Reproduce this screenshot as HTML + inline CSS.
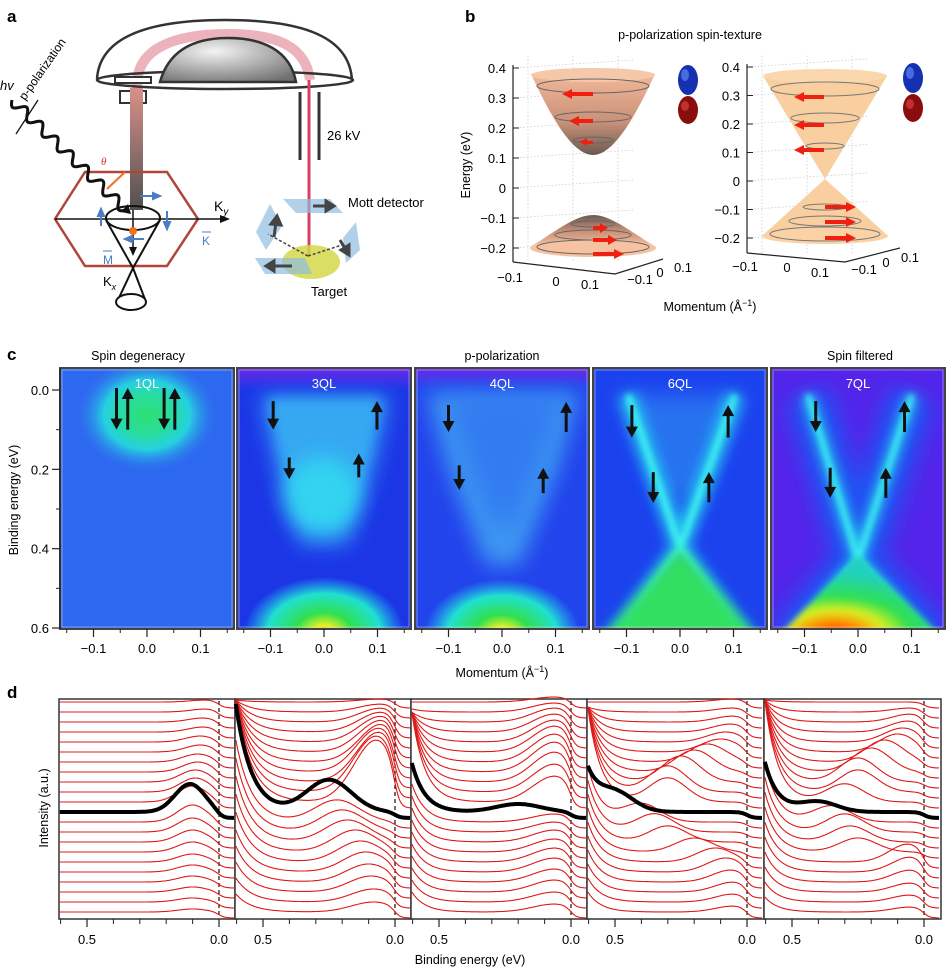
<!DOCTYPE html>
<html><head><meta charset="utf-8">
<style>
html,body{margin:0;padding:0;background:#fff;}
svg{display:block;font-family:"Liberation Sans",Arial,sans-serif;}
</style></head>
<body>
<svg id="fig" width="946" height="970" viewBox="0 0 946 970" xmlns="http://www.w3.org/2000/svg">
<defs>
  <filter id="b3" x="-50%" y="-50%" width="200%" height="200%"><feGaussianBlur stdDeviation="3"/></filter>
  <filter id="b6" x="-50%" y="-50%" width="200%" height="200%"><feGaussianBlur stdDeviation="6"/></filter>
  <filter id="b10" x="-50%" y="-50%" width="200%" height="200%"><feGaussianBlur stdDeviation="10"/></filter>
  <filter id="b16" x="-50%" y="-50%" width="200%" height="200%"><feGaussianBlur stdDeviation="16"/></filter>
  <radialGradient id="hemi" cx="0.4" cy="0.3" r="0.8"><stop offset="0" stop-color="#f4f4f4"/><stop offset="1" stop-color="#707070"/></radialGradient>
  <linearGradient id="col" x1="0" y1="0" x2="0" y2="1"><stop offset="0" stop-color="#d89088"/><stop offset="1" stop-color="#505050"/></linearGradient>
  <linearGradient id="para" x1="0" y1="0" x2="0" y2="1"><stop offset="0" stop-color="#f2b898"/><stop offset="0.6" stop-color="#c89078"/><stop offset="1" stop-color="#6a5a52"/></linearGradient>
  <linearGradient id="para2" x1="0" y1="0" x2="0" y2="1"><stop offset="0" stop-color="#6a5a52"/><stop offset="0.5" stop-color="#c89078"/><stop offset="1" stop-color="#f6c2a2"/></linearGradient>
  <radialGradient id="g1" cx="0.5" cy="0.5" r="0.5"><stop offset="0" stop-color="#2fe070"/><stop offset="0.35" stop-color="#28dca0"/><stop offset="0.6" stop-color="#25d0e0"/><stop offset="1" stop-color="#2f6cf0" stop-opacity="0"/></radialGradient>
  <radialGradient id="gVB" cx="0.5" cy="0.5" r="0.5"><stop offset="0" stop-color="#ffa000"/><stop offset="0.12" stop-color="#e8f020"/><stop offset="0.35" stop-color="#30e050"/><stop offset="0.7" stop-color="#20e0d0"/><stop offset="1" stop-color="#20c0f0" stop-opacity="0"/></radialGradient>
  <radialGradient id="gVB5" cx="0.35" cy="0.95" r="0.75"><stop offset="0" stop-color="#ff1800"/><stop offset="0.22" stop-color="#ff9000"/><stop offset="0.4" stop-color="#d8f020"/><stop offset="0.6" stop-color="#30e050"/><stop offset="1" stop-color="#20d0c0"/></radialGradient>
  <linearGradient id="topP" x1="0" y1="0" x2="0" y2="1"><stop offset="0" stop-color="#6a28e8"/><stop offset="1" stop-color="#6a28e8" stop-opacity="0"/></linearGradient>
  <clipPath id="c0"><rect x="60" y="368" width="174" height="261"/></clipPath>
  <clipPath id="c1"><rect x="237" y="368" width="174" height="261"/></clipPath>
  <clipPath id="c2"><rect x="415" y="368" width="174" height="261"/></clipPath>
  <clipPath id="c3"><rect x="593" y="368" width="174" height="261"/></clipPath>
  <clipPath id="c4"><rect x="771" y="368" width="173" height="261"/></clipPath>
</defs>

<!-- ================= PANEL A ================= -->
<g>
  <text x="7" y="22" font-size="17" font-weight="bold">a</text>
  <path d="M97,79 C100,32 160,20 225,20 C292,20 350,32 352,81" fill="#fff" stroke="#333" stroke-width="2.5"/>
  <path d="M137,88 C135,48 175,34 228,34 C280,34 306,48 310,80" fill="none" stroke="#e59aa6" stroke-width="10" opacity="0.75"/>
  <ellipse cx="225" cy="80" rx="128" ry="9" fill="none" stroke="#333" stroke-width="2.5"/>
  <path d="M160,82 C170,46 200,38 228,38 C262,38 290,50 296,82 Z" fill="url(#hemi)" stroke="#333" stroke-width="2.5"/>
  <rect x="115" y="77" width="36" height="6" fill="#fff" stroke="#333" stroke-width="2"/>
  <rect x="120" y="91" width="26" height="12" fill="none" stroke="#333" stroke-width="2"/>
  <rect x="130" y="88" width="13" height="122" fill="url(#col)"/>
  <line x1="300" y1="92" x2="300" y2="160" stroke="#333" stroke-width="3"/>
  <line x1="319" y1="92" x2="319" y2="160" stroke="#333" stroke-width="3"/>
  <line x1="309" y1="80" x2="309" y2="255" stroke="#d84060" stroke-width="3"/>
  <text x="327" y="140" font-size="13">26 kV</text>
  <polygon points="55,219 85,172 167,172 198,219 167,266 85,266" fill="none" stroke="#b0463a" stroke-width="2.5"/>
  <line x1="55" y1="219" x2="222" y2="219" stroke="#111" stroke-width="1.5"/>
  <polygon points="230,219 220,215 220,223" fill="#111"/>
  <text x="214" y="211" font-size="14">K<tspan font-size="10" dy="4" font-style="italic">y</tspan></text>
  <ellipse cx="133" cy="218" rx="27" ry="12" fill="none" stroke="#111" stroke-width="2"/>
  <line x1="106" y1="220" x2="133" y2="268" stroke="#111" stroke-width="2"/>
  <line x1="160" y1="220" x2="133" y2="268" stroke="#111" stroke-width="2"/>
  <line x1="133" y1="268" x2="117" y2="302" stroke="#111" stroke-width="2"/>
  <line x1="133" y1="268" x2="146" y2="302" stroke="#111" stroke-width="2"/>
  <ellipse cx="131" cy="302" rx="15" ry="8" fill="#fff" stroke="#111" stroke-width="2"/>
  <line x1="133" y1="210" x2="133" y2="250" stroke="#111" stroke-width="1.5"/>
  <polygon points="133,256 129,247 137,247" fill="#111"/>
  <circle cx="133" cy="231" r="4" fill="#f07020"/>
  <path id="wave" fill="none" stroke="#111" stroke-width="3"/>
  <polygon points="131,214 121,212 128,204" fill="#111"/>
  <line x1="16" y1="134" x2="38" y2="100" stroke="#111" stroke-width="1.3"/>
  <text x="0" y="90" font-size="13" font-style="italic">hv</text>
  <text x="0" y="0" font-size="12" transform="translate(25,101) rotate(-55)">p-polarization</text>
  <text x="101" y="165" font-size="11" fill="#d03030" font-style="italic" font-family="Liberation Serif,serif">θ</text>
  <path d="M107,189 L125,172" stroke="#f07020" stroke-width="2" fill="none"/>
  <g stroke="#4a7cc8" stroke-width="2" fill="#4a7cc8">
    <line x1="140" y1="196" x2="155" y2="196"/><polygon points="160,196 153,193 153,199"/>
    <line x1="101" y1="226" x2="101" y2="214"/><polygon points="101,209 98,216 104,216"/>
    <line x1="167" y1="211" x2="167" y2="224"/><polygon points="167,229 164,222 170,222"/>
    <line x1="144" y1="239" x2="130" y2="239"/><polygon points="125,239 132,236 132,242"/>
  </g>
  <text x="103" y="264" font-size="12" fill="#4a7cc8">M</text>
  <line x1="103" y1="251" x2="112" y2="251" stroke="#4a7cc8"/>
  <text x="202" y="245" font-size="12" fill="#4a7cc8">K</text>
  <line x1="202" y1="232" x2="211" y2="232" stroke="#4a7cc8"/>
  <text x="103" y="286" font-size="13">K<tspan font-size="9" dy="4" font-style="italic">x</tspan></text>
  <g>
    <polygon points="283,199 330,199 343,213 296,213" fill="#8fbde0" opacity="0.7"/>
    <polygon points="256,232 270,204 282,226 266,250" fill="#8fbde0" opacity="0.7"/>
    <polygon points="343,238 356,222 360,250 346,263" fill="#8fbde0" opacity="0.7"/>
    <ellipse cx="311" cy="262" rx="29" ry="17" fill="#d4d84a" opacity="0.85"/>
    <polygon points="255,258 305,258 312,274 265,274" fill="#8fbde0" opacity="0.7"/>
    <line x1="308" y1="256" x2="268" y2="234" stroke="#444" stroke-width="1.5" stroke-dasharray="3,2"/>
    <line x1="308" y1="256" x2="342" y2="245" stroke="#444" stroke-width="1.5" stroke-dasharray="3,2"/>
    <g stroke="#444" stroke-width="3" fill="#444">
      <line x1="313" y1="206" x2="328" y2="206"/><polygon points="334,206 326,201 326,211"/>
      <line x1="274" y1="237" x2="276" y2="222"/><polygon points="277,216 271,224 281,225"/>
      <line x1="340" y1="240" x2="346" y2="250"/><polygon points="349,255 341,250 349,245"/>
      <line x1="292" y1="266" x2="272" y2="266"/><polygon points="266,266 274,261 274,271"/>
    </g>
  </g>
  <text x="348" y="207" font-size="13">Mott detector</text>
  <text x="311" y="296" font-size="13">Target</text>
</g>

<!-- ================= PANEL B ================= -->
<g>
  <text x="465" y="22" font-size="17" font-weight="bold">b</text>
  <text x="690" y="39" font-size="12.5" text-anchor="middle">p-polarization spin-texture</text>
  <text transform="translate(470,165) rotate(-90)" font-size="12.5" text-anchor="middle">Energy (eV)</text>
  <g id="bgrid" stroke="#ccc" stroke-width="0.8" stroke-dasharray="1.5,2" fill="none"></g>
  <path d="M531,74 C550,115 572,155 593,155 C614,155 636,115 655,74 Z" fill="url(#para)"/>
  <ellipse cx="593" cy="75" rx="62" ry="7" fill="#f6c8aa"/>
  <path d="M530,247 C555,232 575,215 593,215 C611,215 631,232 656,247 Z" fill="url(#para2)"/>
  <ellipse cx="593" cy="248" rx="63" ry="9" fill="#f6c2a2"/>
  <g fill="none" stroke="#666" stroke-width="1">
    <ellipse cx="593" cy="86" rx="56" ry="7"/><ellipse cx="593" cy="117" rx="38" ry="5"/><ellipse cx="593" cy="140" rx="20" ry="3"/>
    <ellipse cx="593" cy="224" rx="22" ry="3"/><ellipse cx="593" cy="235" rx="38" ry="5"/><ellipse cx="593" cy="247" rx="56" ry="7"/>
  </g>
  <g fill="#f02010">
    <rect x="570" y="92" width="23" height="4"/><polygon points="562,94 572,89 572,99"/>
    <rect x="577" y="119" width="16" height="4"/><polygon points="569,121 579,116 579,126"/>
    <rect x="585" y="141" width="8" height="3"/><polygon points="579,142 587,138 587,146"/>
    <rect x="593" y="226" width="8" height="4"/><polygon points="608,228 600,223 600,233"/>
    <rect x="593" y="238" width="16" height="4"/><polygon points="617,240 608,235 608,245"/>
    <rect x="593" y="252" width="22" height="4"/><polygon points="624,254 614,249 614,259"/>
  </g>
  <path d="M763,76 L825,179 L887,76 Z" fill="#f9cfa0"/>
  <ellipse cx="825" cy="76" rx="62" ry="7" fill="#fbd7ae"/>
  <path d="M763,235 L825,179 L887,235 Z" fill="#f9cfa0"/>
  <ellipse cx="825" cy="236" rx="63" ry="8" fill="#fbd2a6"/>
  <g fill="none" stroke="#777" stroke-width="1">
    <ellipse cx="825" cy="89" rx="54" ry="7"/><ellipse cx="825" cy="118" rx="34" ry="5"/><ellipse cx="825" cy="146" rx="19" ry="3"/>
    <ellipse cx="825" cy="207" rx="22" ry="3"/><ellipse cx="825" cy="221" rx="36" ry="5"/><ellipse cx="825" cy="234" rx="55" ry="7"/>
  </g>
  <g fill="#f02010">
    <rect x="802" y="95" width="22" height="4"/><polygon points="794,97 804,92 804,102"/>
    <rect x="802" y="123" width="22" height="4"/><polygon points="794,125 804,120 804,130"/>
    <rect x="802" y="148" width="22" height="4"/><polygon points="794,150 804,145 804,155"/>
    <rect x="825" y="205" width="22" height="4"/><polygon points="856,207 846,202 846,212"/>
    <rect x="825" y="220" width="22" height="4"/><polygon points="856,222 846,217 846,227"/>
    <rect x="825" y="236" width="22" height="4"/><polygon points="856,238 846,233 846,243"/>
  </g>
  <g>
    <ellipse cx="688" cy="80" rx="10" ry="15" fill="#1530b0"/><ellipse cx="685" cy="75" rx="4" ry="6" fill="#4a6ae0"/>
    <ellipse cx="688" cy="110" rx="10" ry="14" fill="#8a0d0d"/><ellipse cx="685" cy="106" rx="4" ry="5" fill="#c03030"/>
  </g>
  <g>
    <ellipse cx="913" cy="78" rx="10" ry="15" fill="#1530b0"/><ellipse cx="910" cy="73" rx="4" ry="6" fill="#4a6ae0"/>
    <ellipse cx="913" cy="108" rx="10" ry="14" fill="#8a0d0d"/><ellipse cx="910" cy="104" rx="4" ry="5" fill="#c03030"/>
  </g>
  <g id="baxes"></g>
  <text x="710" y="311" font-size="12.5" text-anchor="middle">Momentum (Å<tspan font-size="9" dy="-5">−1</tspan><tspan dy="5">)</tspan></text>
</g>

<!-- ================= PANEL C ================= -->
<g>
  <text x="7" y="360" font-size="17" font-weight="bold">c</text>
  <text x="138" y="360" font-size="12.5" text-anchor="middle">Spin degeneracy</text>
  <text x="502" y="360" font-size="12.5" text-anchor="middle">p-polarization</text>
  <text x="860" y="360" font-size="12.5" text-anchor="middle">Spin filtered</text>

  <g clip-path="url(#c0)">
    <rect x="60" y="368" width="174" height="261" fill="#2d68f0"/>
    <ellipse cx="147" cy="415" rx="72" ry="58" fill="url(#g1)"/>
  </g>
  <g clip-path="url(#c1)">
    <rect x="237" y="368" width="174" height="261" fill="#1c36e6"/>
    <rect x="237" y="368" width="174" height="22" fill="url(#topP)"/>
    <path d="M260,396 L390,396 L374,470 L348,545 L300,545 L276,470 Z" fill="#2f8cf2" filter="url(#b10)"/>
    <path d="M268,398 L382,398 L368,462 L342,525 L306,525 L282,462 Z" fill="#38aef2" filter="url(#b6)" opacity="0.85"/>
    <ellipse cx="322" cy="495" rx="38" ry="38" fill="#30dcf0" filter="url(#b10)" opacity="0.85"/>
    <ellipse cx="324" cy="632" rx="80" ry="55" fill="url(#gVB)"/>
  </g>
  <g clip-path="url(#c2)">
    <rect x="415" y="368" width="174" height="261" fill="#2244ec"/>
    <rect x="415" y="368" width="174" height="20" fill="url(#topP)"/>
    <path d="M426,392 L580,392 L558,470 L520,565 L486,565 L448,470 Z" fill="#3c96f2" filter="url(#b10)"/>
    <path d="M448,398 L562,398 L542,460 L514,525 L494,525 L466,460 Z" fill="#2c6cf0" filter="url(#b10)" opacity="0.6"/>
    <ellipse cx="502" cy="634" rx="78" ry="55" fill="url(#gVB)"/>
  </g>
  <g clip-path="url(#c3)">
    <rect x="593" y="368" width="174" height="261" fill="#1c42ee"/>
    <path d="M618,395 L744,395 L700,500 L662,500 Z" fill="#2b7ef0" filter="url(#b10)" opacity="0.8"/>
    <path d="M628,395 L680,548 L745,640 M735,395 L680,548 L615,640" stroke="#20c0f0" stroke-width="18" fill="none" filter="url(#b6)"/>
    <path d="M628,395 L680,548 L745,640 M735,395 L680,548 L615,640" stroke="#40f0f0" stroke-width="6" fill="none" filter="url(#b3)"/>
    <path d="M680,548 L760,640 L600,640 Z" fill="#30e060" filter="url(#b6)"/>
  </g>
  <g clip-path="url(#c4)">
    <rect x="771" y="368" width="173" height="261" fill="#5424ea"/>
    <path d="M808,395 L858,560 L930,640 M912,395 L858,560 L790,640" stroke="#2050f2" stroke-width="48" fill="none" filter="url(#b10)" stroke-linejoin="round"/>
    <path d="M808,395 L912,395" stroke="#2050f2" stroke-width="30" filter="url(#b10)"/>
    <path d="M808,395 L858,560 L930,640 M912,395 L858,560 L790,640" stroke="#20c8f0" stroke-width="12" fill="none" filter="url(#b6)"/>
    <path d="M808,395 L858,560 L930,640 M912,395 L858,560 L790,640" stroke="#40f0f0" stroke-width="5" fill="none" filter="url(#b3)"/>
    <path d="M858,555 L945,640 L775,640 Z" fill="url(#gVB5)" filter="url(#b3)"/>
  </g>
  <g id="cframes"></g>
  <g id="carrows"></g>
  <g id="caxes"></g>
  <text transform="translate(18,500) rotate(-90)" font-size="12.5" text-anchor="middle">Binding energy (eV)</text>
  <text x="502" y="677" font-size="12.5" text-anchor="middle">Momentum (Å<tspan font-size="9" dy="-5">−1</tspan><tspan dy="5">)</tspan></text>
</g>

<!-- ================= PANEL D ================= -->
<g>
  <text x="7" y="698" font-size="17" font-weight="bold">d</text>
  <g id="dplot"></g>
  <text transform="translate(48,808) rotate(-90)" font-size="12.5" text-anchor="middle">Intensity (a.u.)</text>
  <text x="470" y="964" font-size="12.5" text-anchor="middle">Binding energy (eV)</text>
</g>
</svg>

<script>
// ---------- Panel c data ----------
const cPanels = ['1QL','3QL','4QL','6QL','7QL'];
const cEnergyTicks = [0.0, 0.2, 0.4, 0.6];
const cEnergyMinor = [0.1, 0.3, 0.5];
const cMomTicks = [-0.1, 0.0, 0.1];
const cMomMinor = [-0.15, -0.05, 0.05, 0.15];
const arrowK1 = [-0.057,-0.036,0.032,0.052]; const arrowD1=[-1,1,-1,1]; const arrowE1=[[-0.005,0.1],[-0.005,0.1],[-0.005,0.1],[-0.005,0.1]];
const arrowK2 = [-0.095,-0.065,0.065,0.099]; const arrowD2=[-1,-1,1,1]; const arrowE2=[[0.028,0.1],[0.17,0.225],[0.16,0.22],[0.028,0.1]];
const arrowK3 = [-0.1,-0.08,0.077,0.12]; const arrowD3=[-1,-1,1,1]; const arrowE3=[[0.038,0.106],[0.19,0.252],[0.196,0.26],[0.03,0.106]];
const arrowK4 = [-0.09,-0.05,0.054,0.09]; const arrowD4=[-1,-1,1,1]; const arrowE4=[[0.038,0.12],[0.207,0.285],[0.207,0.283],[0.038,0.12]];
const arrowK5 = [-0.079,-0.052,0.052,0.087]; const arrowD5=[-1,-1,1,1]; const arrowE5=[[0.028,0.106],[0.196,0.272],[0.196,0.272],[0.028,0.106]];

// ---------- Panel d data (EDC stacks, index 0 = bottom curve) ----------
const dEnergyTicks = [0.5, 0.0];
const dEnergyMinor = [0.6, 0.4, 0.3, 0.2, 0.1];
const blackIndex = [10,10,10,10,10];
const peakE1 = [0.1,0.1,0.1,0.1,0.1,0.1,0.1,0.1,0.1,0.1,0.11,0.1,0.09,0.09,0.08,0.08,0.07,0.07,0.06,0.06,0.05,0.05];
const peakA1 = [3,4,5,6,7,8,10,12,14,17,28,16,14,12,10,8,7,6,5,4,3,2];
const edgeA1 = [0,0,0,0,0,0,0,0,0,0,0,0,0,0,0,0,0,0,0,0,0,0];
const peakE2 = [0.08,0.08,0.09,0.1,0.11,0.13,0.15,0.18,0.2,0.22,0.25,0.07,0.07,0.06,0.06,0.05,0.05,0.05,0.05,0.05,0.05,0.05];
const peakA2 = [10,13,16,18,20,21,22,22,22,22,32,62,56,50,44,38,32,26,20,14,8,3];
const edgeA2 = [18,24,30,36,42,50,58,66,74,82,108,102,92,82,72,62,52,42,32,22,12,2];
const peakE3 = [0.06,0.06,0.06,0.06,0.06,0.06,0.06,0.06,0.06,0.06,0.2,0.06,0.06,0.06,0.06,0.06,0.06,0.06,0.06,0.06,0.06,0.06];
const peakA3 = [8,10,12,13,14,14,13,12,10,8,8,26,28,30,30,28,26,22,18,14,9,5];
const edgeA3 = [20,22,24,26,28,30,32,34,36,38,49,90,80,70,60,50,40,30,20,10,3,0];
const peakE4 = [0.05,0.05,0.05,0.06,0.08,0.12,0.2,0.3,0.35,0.4,0.5,0.3,0.3,0.25,0.2,0.15,0.1,0.08,0.06,0.05,0.05,0.05];
const peakA4 = [6,8,10,12,14,14,14,16,18,18,18,24,26,26,22,18,13,10,8,6,4,3];
const edgeA4 = [20,24,28,32,36,40,44,48,52,56,40,95,85,75,65,55,45,35,25,15,5,0];
const peakE5 = [0.05,0.05,0.05,0.05,0.05,0.06,0.25,0.28,0.3,0.35,0.4,0.3,0.25,0.25,0.2,0.15,0.1,0.08,0.06,0.05,0.05,0.05];
const peakA5 = [5,7,9,12,15,18,14,16,18,16,10,18,22,24,24,22,18,14,11,8,4,0];
const edgeA5 = [15,20,25,30,35,40,45,50,55,60,50,102,92,82,72,62,52,42,32,22,12,2];

// ---------- Panel b axis ticks ----------
const bEnergyTicks = [0.4,0.3,0.2,0.1,0,-0.1,-0.2];
const bEnergyLabels = ['0.4','0.3','0.2','0.1','0','−0.1','−0.2'];

const NS='http://www.w3.org/2000/svg';
function mk(tag, attrs, parent){const e=document.createElementNS(NS,tag);for(const k in attrs)e.setAttribute(k,attrs[k]);parent.appendChild(e);return e;}
const fmt = v => (v<0?'−':'')+Math.abs(v).toFixed(1);

(function(){
  const x0=12,y0=100,x1=126,y1=210; const L=Math.hypot(x1-x0,y1-y0); const ux=(x1-x0)/L, uy=(y1-y0)/L; const nx=-uy, ny=ux;
  let d='';
  for(let s=0;s<=L;s+=1){const a=Math.sin(s/L*Math.PI*2*7.5)*5; const x=x0+ux*s+nx*a, y=y0+uy*s+ny*a; d+=(s===0?'M':'L')+x.toFixed(1)+','+y.toFixed(1);}
  document.getElementById('wave').setAttribute('d',d);
})();

(function(){
  const g=document.getElementById('baxes'); const grid=document.getElementById('bgrid');
  const plots=[{ax:513,y0:188,s:300,bot:262,tick:[[510,282,'−0.1'],[556,286,'0'],[590,289,'0.1'],[640,284,'−0.1'],[660,277,'0'],[683,272,'0.1']],base:'M513,262 L615,274 L663,259'},
               {ax:747,y0:181,s:285,bot:253,tick:[[745,271,'−0.1'],[787,272,'0'],[820,277,'0.1'],[864,274,'−0.1'],[886,267,'0'],[910,262,'0.1']],base:'M747,253 L845,262 L900,248'}];
  plots.forEach((p,pi)=>{
    const ax=mk('g',{},g);
    
    
    mk('line',{x1:p.ax,y1:p.y0-p.s*0.41,x2:p.ax,y2:p.bot,stroke:'#222','stroke-width':1.2},ax);
    mk('path',{d:p.base,fill:'none',stroke:'#222','stroke-width':1.2},ax);
    bEnergyTicks.forEach((v,i)=>{
      const y=p.y0-v*p.s;
      mk('line',{x1:p.ax,y1:y,x2:p.ax+6,y2:y,stroke:'#222','stroke-width':1},ax);
      mk('line',{x1:p.ax,y1:y,x2:p.ax+120,y2:y-8,stroke:'#ccc','stroke-width':0.8,'stroke-dasharray':'1.5,2'},grid);
      const t=mk('text',{x:p.ax-7,y:y+5,'font-size':13,'text-anchor':'end'},ax); t.textContent=bEnergyLabels[i];
    });
    [0,45,90].forEach(dx=>mk('line',{x1:p.ax+15+dx,y1:p.y0-p.s*0.44,x2:p.ax+15+dx,y2:p.bot,stroke:'#ccc','stroke-width':0.8,'stroke-dasharray':'1.5,2'},grid));
    p.tick.forEach(t=>{const e=mk('text',{x:t[0],y:t[1],'font-size':13,'text-anchor':'middle'},ax);e.textContent=t[2];});
  });
})();

(function(){
  const px=[60,237,415,593,771], w=174, top=368, bot=629;
  const eY = e => 390 + e*396.7;
  const kX = (i,k) => px[i]+w/2 + k*535;
  const fr=document.getElementById('cframes'), ax=document.getElementById('caxes'), ar=document.getElementById('carrows');
  const arrK=[arrowK1,arrowK2,arrowK3,arrowK4,arrowK5], arrD=[arrowD1,arrowD2,arrowD3,arrowD4,arrowD5], arrE=[arrowE1,arrowE2,arrowE3,arrowE4,arrowE5];
  cPanels.forEach((name,i)=>{
    const r=mk('rect',{x:px[i],y:top,width:w,height:bot-top,fill:'none',stroke:'#444','stroke-width':2},fr);
    
    
    mk('rect',{x:px[i]+2,y:top+2,width:w-4,height:bot-top-4,fill:'none',stroke:'#ddd','stroke-width':0.8,opacity:0.6},fr);
    const t=mk('text',{x:px[i]+w/2,y:388,'font-size':13,'text-anchor':'middle',fill:'#fff'},fr);
    
    
    t.textContent=name;
    cMomTicks.forEach(k=>{const x=kX(i,k);mk('line',{x1:x,y1:bot,x2:x,y2:bot+8,stroke:'#222','stroke-width':1.2},ax);
      const tl=mk('text',{x:x,y:bot+24,'font-size':13,'text-anchor':'middle'},ax);tl.textContent=fmt(k);});
    cMomMinor.forEach(k=>{const x=kX(i,k);mk('line',{x1:x,y1:bot,x2:x,y2:bot+4,stroke:'#222','stroke-width':1},ax);});
    arrK[i].forEach((k,j)=>{
      const x=kX(i,k), ya=eY(arrE[i][j][0]), yb=eY(arrE[i][j][1]);
      const g=mk('g',{},ar);
      
      
      if(arrD[i][j]<0){mk('line',{x1:x,y1:ya,x2:x,y2:yb-8,stroke:'#111','stroke-width':3},g);mk('polygon',{points:`${x},${yb} ${x-6},${yb-11} ${x+6},${yb-11}`,fill:'#111'},g);}
      else{mk('line',{x1:x,y1:yb,x2:x,y2:ya+8,stroke:'#111','stroke-width':3},g);mk('polygon',{points:`${x},${ya} ${x-6},${ya+11} ${x+6},${ya+11}`,fill:'#111'},g);}
    });
  });
  mk('line',{x1:px[0],y1:top,x2:px[0],y2:bot,stroke:'#222','stroke-width':1.2},ax);
  cEnergyTicks.forEach(e=>{const y=eY(e);mk('line',{x1:px[0]-8,y1:y,x2:px[0],y2:y,stroke:'#222','stroke-width':1.2},ax);
    const t=mk('text',{x:px[0]-11,y:y+5,'font-size':13,'text-anchor':'end'},ax);t.textContent=e.toFixed(1);});
  cEnergyMinor.forEach(e=>{const y=eY(e);mk('line',{x1:px[0]-4,y1:y,x2:px[0],y2:y,stroke:'#222','stroke-width':1},ax);});
})();

(function(){
  const g=document.getElementById('dplot');
  const px=[59,235,411,587,764], w=[176,176,176,177,177], top=699, bot=919;
  const peaksE=[peakE1,peakE2,peakE3,peakE4,peakE5], peaksA=[peakA1,peakA2,peakA3,peakA4,peakA5], edges=[edgeA1,edgeA2,edgeA3,edgeA4,edgeA5];
  const cst=[6,6,6,6,6], pw=[0.08,0.12,0.12,0.1,0.1], ew=[0.06,0.06,0.05,0.05,0.05];
  const xOf=(i,E)=>px[i]+28+(0.5-E)*264;
  const baseOf=j=>918-j*10;
  cPanels.forEach((name,i)=>{
    const pg=mk('g',{},g);
    
    
    mk('rect',{x:px[i],y:top,width:w[i],height:bot-top,fill:'#fff',stroke:'#333','stroke-width':1.5},pg);
    const x0=xOf(i,0);
    mk('line',{x1:x0,y1:top+2,x2:x0,y2:bot-2,stroke:'#111','stroke-width':1.2,'stroke-dasharray':'4,3'},pg);
    const order=[]; for(let j=0;j<22;j++) if(j!==blackIndex[i]) order.push(j); order.push(blackIndex[i]);
    order.forEach(j=>{
      let d='';
      for(let E=0.603;E>=-0.06;E-=0.004){
        const f=1/(1+Math.exp(-E/0.012));
        const v=cst[i]+edges[i][j]*Math.exp(-(0.603-E)/ew[i])+peaksA[i][j]*Math.exp(-Math.pow((E-peaksE[i][j])/pw[i],2));
        const y=baseOf(j)-f*v;
        d+=(d?'L':'M')+xOf(i,E).toFixed(1)+','+y.toFixed(1);
      }
      const isB=j===blackIndex[i];
      const p=mk('path',{d:d,fill:'none',stroke:isB?'#000':'#e01818','stroke-width':isB?4:1.1},pg);
      
      
    });
    dEnergyTicks.forEach(E=>{const x=xOf(i,E);mk('line',{x1:x,y1:bot,x2:x,y2:bot+8,stroke:'#222','stroke-width':1.2},pg);
      const t=mk('text',{x:x,y:bot+25,'font-size':13,'text-anchor':'middle'},pg);t.textContent=E.toFixed(1);});
    dEnergyMinor.forEach(E=>{const x=xOf(i,E);mk('line',{x1:x,y1:bot,x2:x,y2:bot+5,stroke:'#222','stroke-width':1},pg);});
  });
})();
</script>
</body></html>
